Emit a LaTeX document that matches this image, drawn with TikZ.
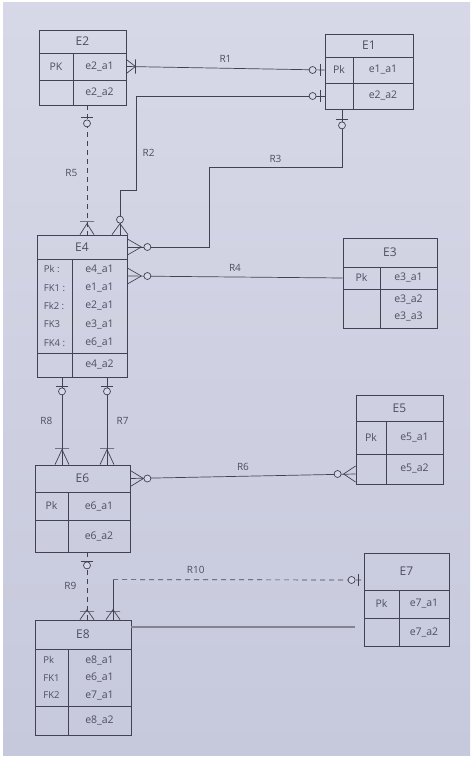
\documentclass[tikz,border=0pt]{standalone}
\usepackage{fontspec}
\setmainfont{Open Sans}
\definecolor{paper}{RGB}{215,216,231}
\definecolor{paperlow}{RGB}{198,201,220}
\definecolor{ink}{RGB}{66,66,82}
\definecolor{pencil}{RGB}{78,78,96}
\tikzset{
  cell/.style={draw=ink, line width=0.8pt, rectangle, inner sep=0pt, text=pencil,
    font=\fontsize{10.5}{12}\selectfont},
  conn/.style={draw=ink, line width=0.7pt},
  dashline/.style={conn, dash pattern=on 5pt off 4pt},
  scribble/.style={draw=ink!65, line width=1.8pt},
  lbl/.style={text=pencil, font=\fontsize{10}{12}\selectfont},
  pics/onemany/.style 2 args={code={
    \draw[ink, line width=0.7pt] (0,-7) -- (#1,0) -- (0,7) (#2,-7) -- (#2,7);}},
  pics/zeromany/.style 2 args={code={
    \draw[ink, line width=0.7pt] (0,-8) -- (#1,0) -- (0,8);
    \draw[ink, line width=0.7pt, fill=paper] (#2,0) circle (3.5);}},
  pics/zeroone/.style 2 args={code={
    \draw[ink, line width=0.7pt] (#1,-6) -- (#1,6);
    \draw[ink, line width=0.7pt, fill=paper] (#2,0) circle (3.5);}},
}
\begin{document}
\begin{tikzpicture}[x=1pt, y=-1pt]

  \useasboundingbox (0,0) rectangle (474,760);
  \fill[white] (0,0) rectangle (474,760);
  \shade[top color=paper, bottom color=paperlow] (3,3) rectangle (470,755);

  % entities
  \begin{scope}[every node/.style={cell}]
    \node[minimum width=87, minimum height=23, font=\fontsize{12}{14}\selectfont] (e2t) at (82.5,41.5) {E2};
    \node[minimum width=34, minimum height=27] (e2k1) at (56,66.5) {PK};
    \node[minimum width=53, minimum height=27] (e2a1) at (99.5,66.5) {e2\_a1};
    \node[minimum width=34, minimum height=25] (e2k2) at (56,92.5) {};
    \node[minimum width=53, minimum height=25] (e2a2) at (99.5,92.5) {e2\_a2};

    \node[minimum width=88, minimum height=23, font=\fontsize{12}{14}\selectfont] (e1t) at (369,45.5) {E1};
    \node[minimum width=28, minimum height=26] (e1k1) at (339,70) {Pk};
    \node[minimum width=60, minimum height=26] (e1a1) at (383,70) {e1\_a1};
    \node[minimum width=28, minimum height=26] (e1k2) at (339,96) {};
    \node[minimum width=60, minimum height=26] (e1a2) at (383,96) {e2\_a2};

    \node[minimum width=94, minimum height=29, font=\fontsize{12}{14}\selectfont] (e3t) at (390,252.5) {E3};
    \node[minimum width=37, minimum height=22] (e3k1) at (361.5,278) {Pk};
    \node[minimum width=57, minimum height=22] (e3a1) at (408.5,278) {e3\_a1};
    \node[minimum width=37, minimum height=39] (e3k2) at (361.5,308.5) {};
    \node[minimum width=57, minimum height=39, align=center,
      font=\fontsize{10.5}{17}\selectfont] (e3a2) at (408.5,308.5) {e3\_a2\\e3\_a3};

    \node[minimum width=90, minimum height=24, font=\fontsize{12}{14}\selectfont] (e4t) at (82,247) {E4};
    \node[minimum width=35, minimum height=94, align=left,
      font=\fontsize{9.5}{18.3}\selectfont] (e4k1) at (54.5,306) {Pk :\\FK1 :\\Fk2 :\\FK3\\FK4 :};
    \node[minimum width=55, minimum height=94, align=center,
      font=\fontsize{10.5}{18.3}\selectfont] (e4a1) at (99.5,306)
      {e4\_a1\\e1\_a1\\e2\_a1\\e3\_a1\\e6\_a1};
    \node[minimum width=35, minimum height=24] (e4k2) at (54.5,365) {};
    \node[minimum width=55, minimum height=24] (e4a2) at (99.5,365) {e4\_a2};

    \node[minimum width=87, minimum height=26, font=\fontsize{12}{14}\selectfont] (e5t) at (399.5,408) {E5};
    \node[minimum width=30, minimum height=33] (e5k1) at (371,437.5) {Pk};
    \node[minimum width=57, minimum height=33] (e5a1) at (414.5,437.5) {e5\_a1};
    \node[minimum width=30, minimum height=30] (e5k2) at (371,469) {};
    \node[minimum width=57, minimum height=30] (e5a2) at (414.5,469) {e5\_a2};

    \node[minimum width=95, minimum height=27, font=\fontsize{12}{14}\selectfont] (e6t) at (82.5,478.5) {E6};
    \node[minimum width=33, minimum height=28] (e6k1) at (51.5,506) {Pk};
    \node[minimum width=62, minimum height=28] (e6a1) at (99,506) {e6\_a1};
    \node[minimum width=33, minimum height=32] (e6k2) at (51.5,536) {};
    \node[minimum width=62, minimum height=32] (e6a2) at (99,536) {e6\_a2};

    \node[minimum width=85, minimum height=37, font=\fontsize{12}{14}\selectfont] (e7t) at (406.5,571.5) {E7};
    \node[minimum width=35, minimum height=28] (e7k1) at (381.5,604) {Pk};
    \node[minimum width=50, minimum height=28] (e7a1) at (424,604) {e7\_a1};
    \node[minimum width=35, minimum height=28] (e7k2) at (381.5,632) {};
    \node[minimum width=50, minimum height=28] (e7a2) at (424,632) {e7\_a2};

    \node[minimum width=96, minimum height=29, font=\fontsize{12}{14}\selectfont] (e8t) at (83,634.5) {E8};
    \node[minimum width=33, minimum height=57, align=left,
      font=\fontsize{9.5}{17.5}\selectfont] (e8k1) at (51.5,677.5) {Pk\\FK1\\FK2};
    \node[minimum width=63, minimum height=57, align=center,
      font=\fontsize{10.5}{17.5}\selectfont] (e8a1) at (99.5,677.5) {e8\_a1\\e6\_a1\\e7\_a1};
    \node[minimum width=33, minimum height=29] (e8k2) at (51.5,720.5) {};
    \node[minimum width=63, minimum height=29] (e8a2) at (99.5,720.5) {e8\_a2};
  \end{scope}

  % relationships
  \begin{scope}[every node/.style={lbl}]
    \path[conn] (e2a1.east) -- node[above=2pt] {R1} (e1k1.west);
    \path[conn] (e1k2.west) -| node[pos=0.8, right=3pt] {R2} (136,190)
      -| ([xshift=38pt]e4t.north);
    \path[conn] ([xshift=3pt]e1k2.south) |- node[pos=0.75, above=1pt] {R3} (209,167)
      |- (e4t.east);
    \path[conn] ([yshift=30pt]e4a1.east) -- node[above=2pt] {R4} (e3k1.west);
    \path[dashline] ([xshift=-12.5pt]e2a2.south) -- node[pos=0.52, left=6pt] {R5}
      ([xshift=5pt]e4t.north);
    \path[conn] (e6t.east) -- node[above=2pt] {R6} ([yshift=-5pt]e5k2.west);
    \path[conn] ([xshift=7.5pt]e4a2.south) -- node[right=6pt] {R7} ([xshift=24.5pt]e6t.north);
    \path[conn] ([xshift=7.5pt]e4k2.south) -- node[left=6pt] {R8} ([xshift=-20.5pt]e6t.north);
    \path[dashline] ([xshift=-12pt]e6a2.south) -- node[left=7pt] {R9} ([xshift=4pt]e8t.north);
    \path[conn] ([xshift=30pt]e8t.north) -- ++(0,-40) coordinate (r10c);
    \path[dashline] (r10c) -- node[pos=0.33, above=2pt] {R10} ([yshift=-8.5pt]e7t.west);
    \coordinate (scr) at (355,627);
    \path[scribble] ([yshift=7.5pt]e8t.east) -- (scr);
  \end{scope}

  % cardinality marks
  \pic at (e2a1.east) {onemany={9}{9}};
  \pic[rotate=180] at (e1k1.west) {zeroone={4}{12}};
  \pic[rotate=180] at (e1k2.west) {zeroone={4}{12}};
  \pic[rotate=90] at ([xshift=38pt]e4t.north) {zeromany={11}{15}};
  \pic[rotate=-90] at ([xshift=3pt]e1k2.south) {zeroone={10}{16}};
  \pic at (e4t.east) {zeromany={14}{20}};
  \pic at ([yshift=30pt]e4a1.east) {zeromany={14}{20}};
  \pic[rotate=-90] at ([xshift=-12.5pt]e2a2.south) {zeroone={12}{18}};
  \pic[rotate=90] at ([xshift=5pt]e4t.north) {onemany={11}{13}};
  \pic at (e6t.east) {zeromany={13}{17}};
  \pic[rotate=180] at ([yshift=-5pt]e5k2.west) {zeromany={12}{18}};
  \pic[rotate=-90] at ([xshift=7.5pt]e4a2.south) {zeroone={9}{14}};
  \pic[rotate=90] at ([xshift=24.5pt]e6t.north) {onemany={15}{16}};
  \pic[rotate=-90] at ([xshift=7.5pt]e4k2.south) {zeroone={9}{14}};
  \pic[rotate=90] at ([xshift=-20.5pt]e6t.north) {onemany={15}{16}};
  \pic[rotate=-90] at ([xshift=-12pt]e6a2.south) {zeroone={9}{13}};
  \pic[rotate=90] at ([xshift=4pt]e8t.north) {onemany={10}{8}};
  \pic[rotate=90] at ([xshift=30pt]e8t.north) {onemany={10}{8}};
  \pic[rotate=180] at ([yshift=-8.5pt]e7t.west) {zeroone={5}{12}};

\end{tikzpicture}
\end{document}
